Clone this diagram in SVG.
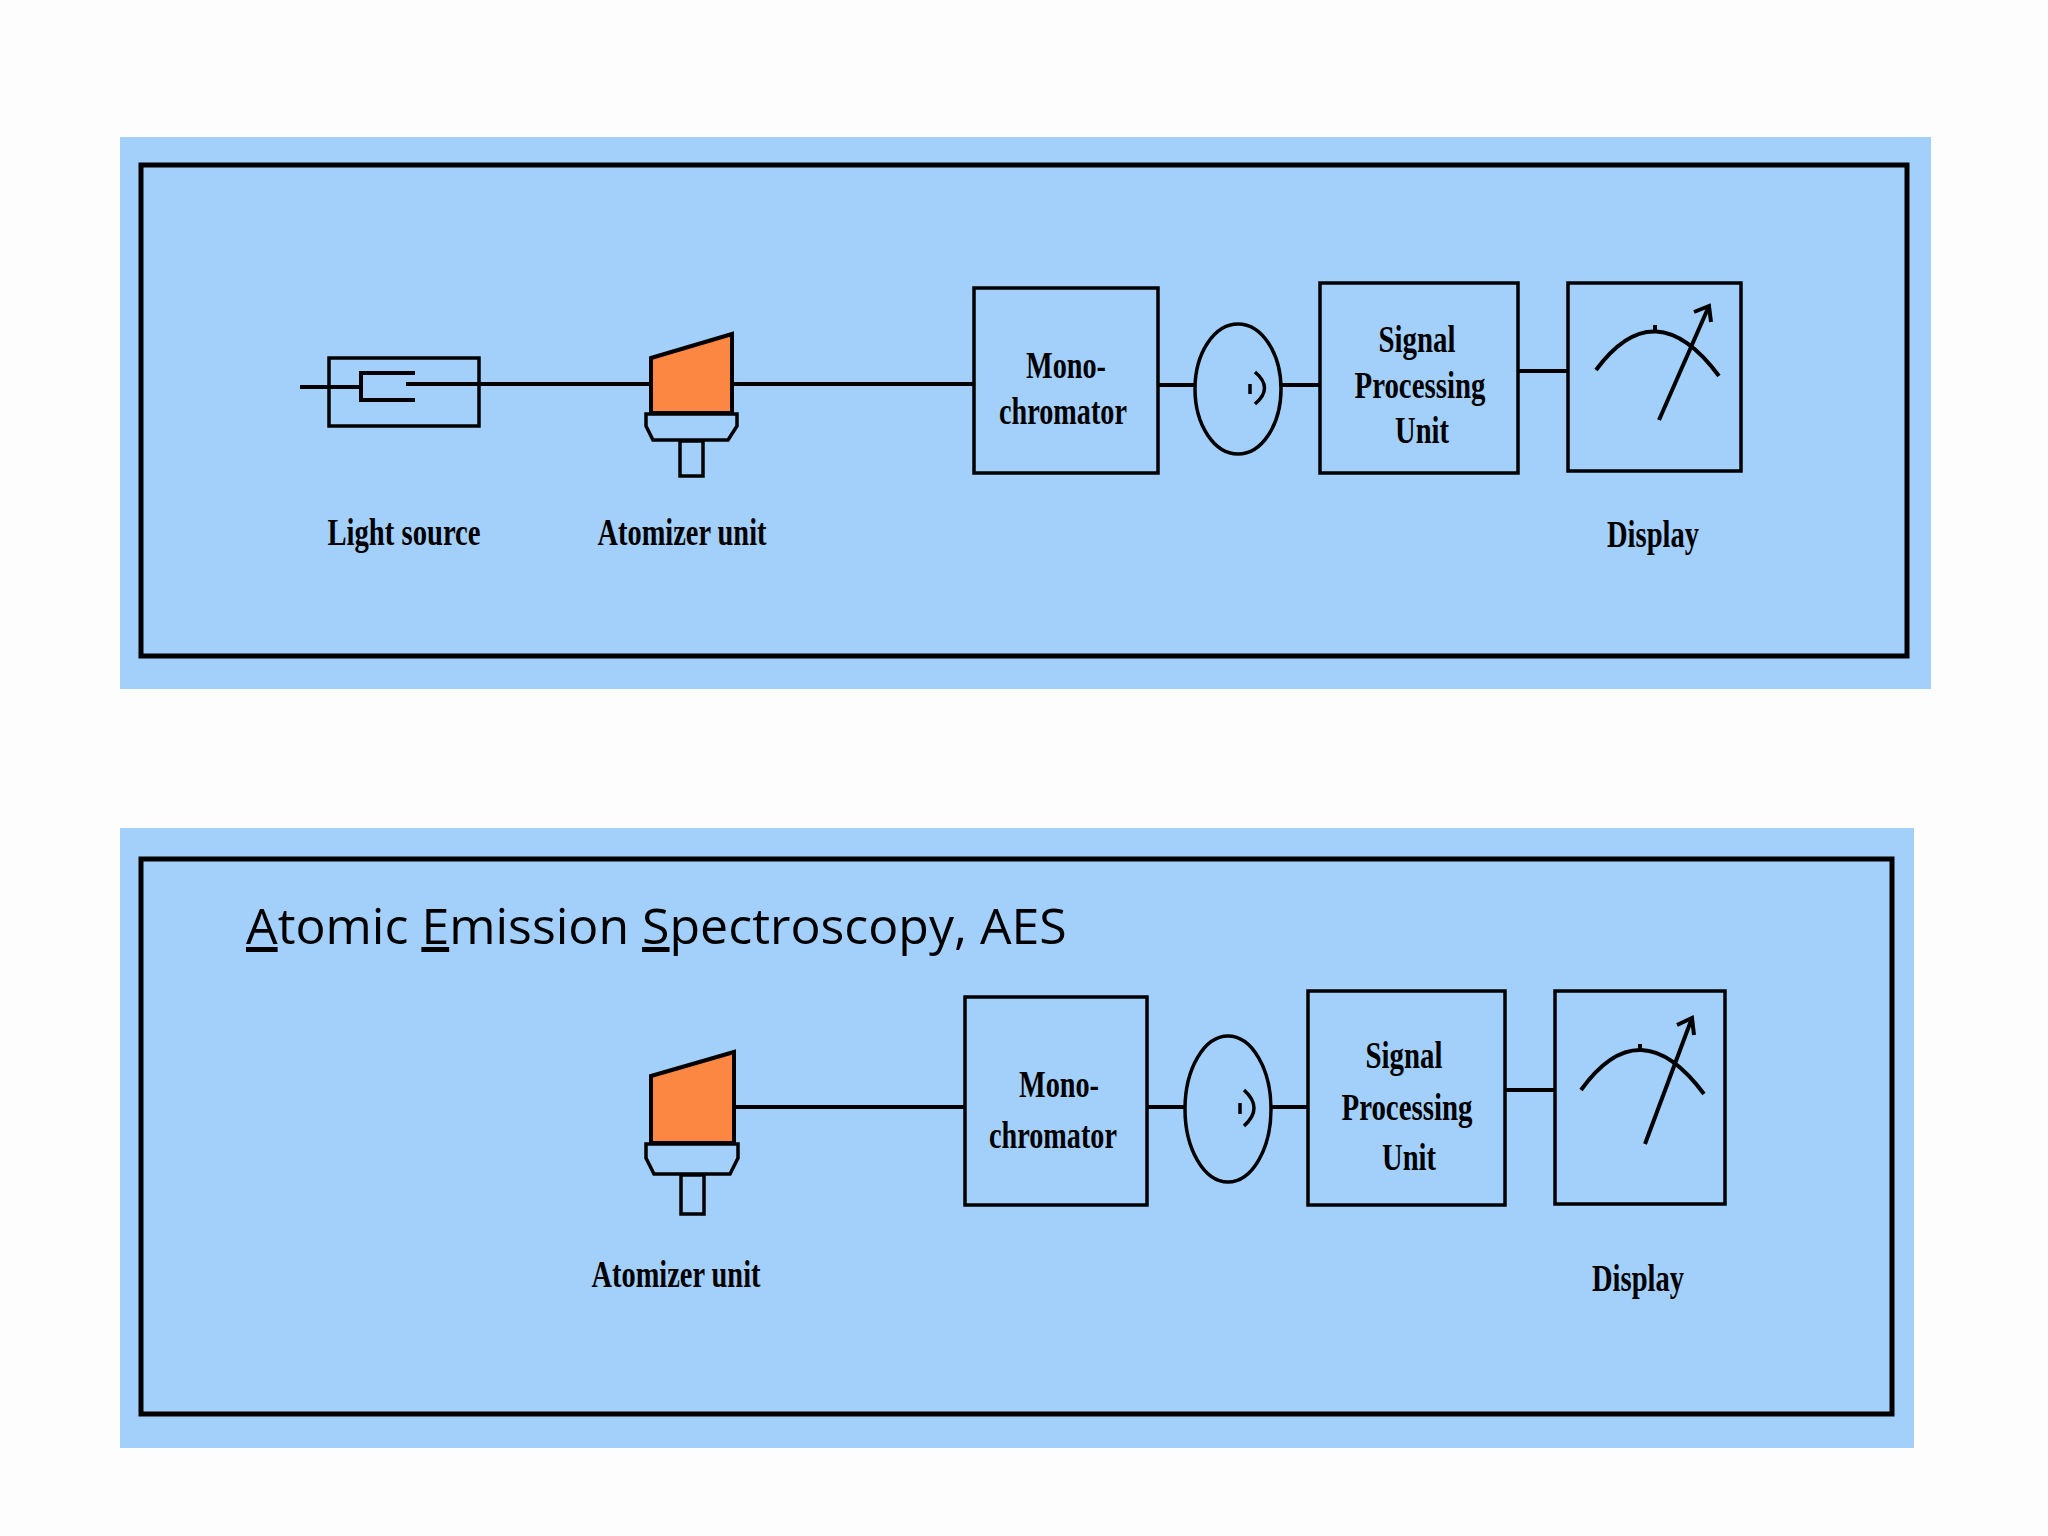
<svg xmlns="http://www.w3.org/2000/svg" width="2048" height="1536" viewBox="0 0 2048 1536">
<style>
.panel{fill:#a3d0fb}
.frame{fill:none;stroke:#000;stroke-width:5}
.ln{fill:none;stroke:#000;stroke-width:4}
.box{fill:none;stroke:#000;stroke-width:3.5}
.lbl{font-family:"Liberation Serif",serif;font-weight:bold;font-size:38px;text-anchor:middle;fill:#000}
.org{fill:#fc8742;stroke:#000;stroke-width:4}
</style>
<rect width="2048" height="1536" fill="#fdfdfd"/>
<rect class="panel" x="120" y="137" width="1811" height="552"/>
<rect class="frame" x="141" y="165" width="1766" height="491"/>
<rect class="panel" x="120" y="828" width="1794" height="620"/>
<rect class="frame" x="141" y="859" width="1751" height="555"/>

<g id="connectors">
<line class="ln" x1="406" y1="384" x2="974" y2="384"/>
<line class="ln" x1="1158" y1="385" x2="1195" y2="385"/>
<line class="ln" x1="1281" y1="385" x2="1320" y2="385"/>
<line class="ln" x1="1518" y1="371" x2="1568" y2="371"/>
<line class="ln" x1="734" y1="1107" x2="965" y2="1107"/>
<line class="ln" x1="1147" y1="1107" x2="1185" y2="1107"/>
<line class="ln" x1="1271" y1="1107" x2="1308" y2="1107"/>
<line class="ln" x1="1505" y1="1090" x2="1555" y2="1090"/>
</g>

<g id="light-source">
<rect class="box" x="329" y="358" width="150" height="68"/>
<polyline class="ln" points="300,387 360,387"/>
<polyline class="ln" points="415,373 361,373 361,400 415,400"/>
<text class="lbl" x="404" y="545" textLength="153" lengthAdjust="spacingAndGlyphs">Light source</text>
</g>

<g id="atomizer1">
<polygon class="org" points="651,358 732,334 732,413 651,413"/>
<polygon class="box" points="646,414 737,414 737,426 728,440 653,440 646,426"/>
<rect class="box" x="680" y="441" width="23" height="35"/>
<text class="lbl" x="682" y="545" textLength="169" lengthAdjust="spacingAndGlyphs">Atomizer unit</text>
</g>

<g id="mono1">
<rect class="box" x="974" y="288" width="184" height="185"/>
<text class="lbl" x="1066" y="378" textLength="80" lengthAdjust="spacingAndGlyphs">Mono-</text>
<text class="lbl" x="1063" y="424" textLength="128" lengthAdjust="spacingAndGlyphs">chromator</text>
</g>

<g id="detector1">
<ellipse class="box" cx="1238" cy="389" rx="43" ry="65"/>
<path class="box" d="M1255,372 Q1274,388 1255,404"/>
<line class="box" x1="1250" y1="384" x2="1250" y2="394"/>
</g>

<g id="spu1">
<rect class="box" x="1320" y="283" width="198" height="190"/>
<text class="lbl" x="1417" y="352" textLength="77" lengthAdjust="spacingAndGlyphs">Signal</text>
<text class="lbl" x="1420" y="398" textLength="131" lengthAdjust="spacingAndGlyphs">Processing</text>
<text class="lbl" x="1422" y="443" textLength="54" lengthAdjust="spacingAndGlyphs">Unit</text>
</g>

<g id="display1">
<rect class="box" x="1568" y="283" width="173" height="188"/>
<path class="ln" stroke-width="3" d="M1596,370 Q1655,290 1719,376"/>
<line class="ln" x1="1655" y1="325" x2="1655" y2="332"/>
<line class="ln" x1="1659" y1="420" x2="1709" y2="306"/>
<polyline class="ln" points="1694,312 1709,306 1711,322"/>
<text class="lbl" x="1653" y="547" textLength="92" lengthAdjust="spacingAndGlyphs">Display</text>
</g>

<text x="246" y="944" font-family="'Open Sans','Noto Sans',sans-serif" font-size="50" fill="#000"><tspan text-decoration="underline">A</tspan>tomic <tspan text-decoration="underline">E</tspan>mission <tspan text-decoration="underline">S</tspan>pectroscopy, AES</text>

<g id="atomizer2">
<polygon class="org" points="651,1076 734,1052 734,1143 651,1143"/>
<polygon class="box" points="646,1144 738,1144 738,1158 730,1174 654,1174 646,1158"/>
<rect class="box" x="681" y="1175" width="23" height="39"/>
<text class="lbl" x="676" y="1287" textLength="169" lengthAdjust="spacingAndGlyphs">Atomizer unit</text>
</g>

<g id="mono2">
<rect class="box" x="965" y="997" width="182" height="208"/>
<text class="lbl" x="1059" y="1097" textLength="80" lengthAdjust="spacingAndGlyphs">Mono-</text>
<text class="lbl" x="1053" y="1148" textLength="128" lengthAdjust="spacingAndGlyphs">chromator</text>
</g>

<g id="detector2">
<ellipse class="box" cx="1228" cy="1109" rx="43" ry="73"/>
<path class="box" d="M1244,1090 Q1264,1108 1244,1126"/>
<line class="box" x1="1240" y1="1103" x2="1240" y2="1114"/>
</g>

<g id="spu2">
<rect class="box" x="1308" y="991" width="197" height="214"/>
<text class="lbl" x="1404" y="1068" textLength="77" lengthAdjust="spacingAndGlyphs">Signal</text>
<text class="lbl" x="1407" y="1120" textLength="131" lengthAdjust="spacingAndGlyphs">Processing</text>
<text class="lbl" x="1409" y="1170" textLength="54" lengthAdjust="spacingAndGlyphs">Unit</text>
</g>

<g id="display2">
<rect class="box" x="1555" y="991" width="170" height="213"/>
<path class="ln" stroke-width="3" d="M1581,1090 Q1640,1008 1704,1094"/>
<line class="ln" x1="1640" y1="1044" x2="1640" y2="1051"/>
<line class="ln" x1="1645" y1="1144" x2="1692" y2="1018"/>
<polyline class="ln" points="1677,1025 1692,1018 1694,1035"/>
<text class="lbl" x="1638" y="1291" textLength="92" lengthAdjust="spacingAndGlyphs">Display</text>
</g>
</svg>
